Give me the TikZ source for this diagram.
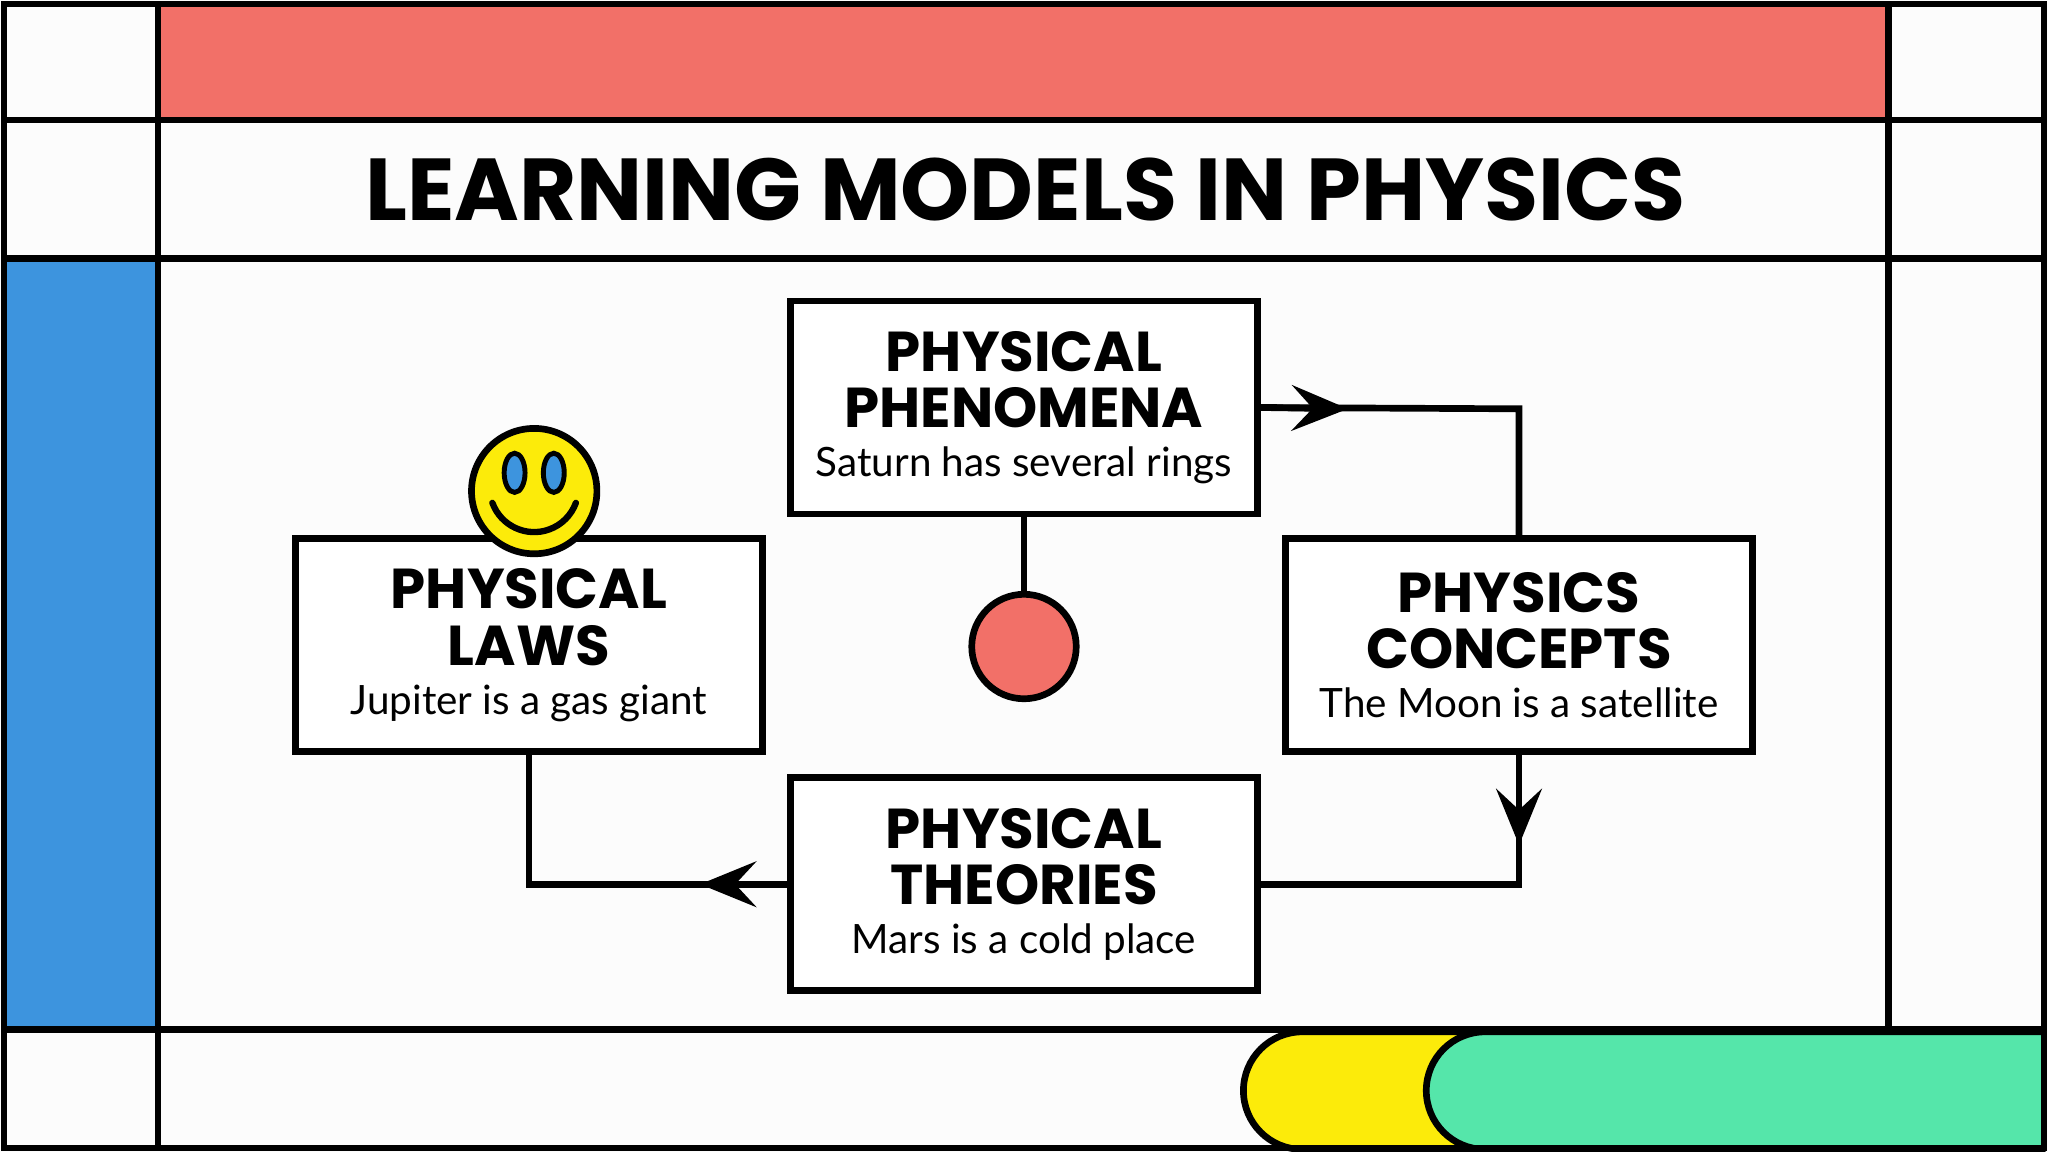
\documentclass[tikz,border=0pt]{standalone}
\usepackage{fontspec}
\setmainfont{Lato}
\newfontfamily\headfont{Poppins}[UprightFont=* Bold]
\usetikzlibrary{arrows.meta}
\definecolor{cred}{HTML}{F27068}
\definecolor{cblue}{HTML}{3D94DE}
\definecolor{cyel}{HTML}{FCEB0A}
\definecolor{cgreen}{HTML}{55E6AA}
\definecolor{bg}{HTML}{FCFCFC}
\newlength{\myu}\setlength{\myu}{0.01306cm}
\newcommand{\hd}{\headfont\fontsize{16}{19}\selectfont}
\newcommand{\bd}{\normalfont\fontsize{11.5}{18}\selectfont}
\tikzset{
 ln/.style={line width=1.9pt, line join=miter},
 card/.style={ln, draw, fill=white, minimum width=358\myu, minimum height=163\myu, align=center, inner sep=0pt},
 tip/.style={ln, -{Stealth[length=16pt,width=13pt,inset=6pt]}}
}
\begin{document}
\begin{tikzpicture}[x=0.01306cm,y=-0.01306cm]
\useasboundingbox (0,0) rectangle (1568,882);
\fill[bg] (0,0) rectangle (1568,882);
\fill[cred] (121,3) rectangle (1446,92);
\fill[cblue] (3,198) rectangle (121,788);
% grid
\draw[ln] (3,3) rectangle (1565,879);
\draw[ln] (121,3) -- (121,879);
\draw[ln] (1446,3) -- (1446,788);
\foreach \y in {92,198,788} \draw[ln] (3,\y) -- (1565,\y);
% pills
\draw[ln, fill=cyel] (1566,790) -- (997,790) arc[start angle=270,end angle=90,radius=45] -- (1566,880);
\draw[ln, fill=cgreen] (1566,790) -- (1137,790) arc[start angle=270,end angle=90,radius=45] -- (1566,880);
\draw[ln] (3,3) rectangle (1565,879);
\node[font=\headfont\fontsize{25}{25}\selectfont] (title) at (785,145) {LEARNING MODELS IN PHYSICS};
% cards
\node[card] (phen) at (784,312) {\hd PHYSICAL\\[4pt]\hd PHENOMENA\\[2pt]\bd Saturn has several rings};
\node[card] (laws) at (405,494) {\hd PHYSICAL\\[4pt]\hd LAWS\\[2pt]\bd Jupiter is a gas giant};
\node[card] (conc) at (1163,494) {\hd PHYSICS\\[4pt]\hd CONCEPTS\\[2pt]\bd The Moon is a satellite};
\node[card] (theo) at (784,677) {\hd PHYSICAL\\[4pt]\hd THEORIES\\[2pt]\bd Mars is a cold place};
% connectors
\coordinate (c1) at (1163,313);
\coordinate (c2) at (1163,677);
\coordinate (c3) at (405,677);
\draw[ln] (phen.east) -- (c1) -- (conc.north);
\draw[tip] (phen.east) -- (1032,313);
\draw[ln] (conc.south) -- (c2) -- (theo.east);
\draw[tip] (conc.south) -- (1163,647);
\draw[ln] (theo.west) -- (c3) -- (laws.south);
\draw[tip] (theo.west) -- (536,677);
\node[circle, ln, draw, fill=cred, minimum size=80\myu] (dot) at (784,495) {};
\draw[ln] (phen.south) -- (dot.north);
% smiley
\node[circle, ln, draw, fill=cyel, minimum size=96\myu] (smile) at (409,376) {};
\foreach \dx in {-15,15} \draw[line width=1.4pt, fill=cblue] (409+\dx,362) ellipse[x radius=8, y radius=15];
\draw[line width=1.8pt, line cap=round] (377,385) arc[start angle=160,end angle=20,radius=34];
\end{tikzpicture}
\end{document}
